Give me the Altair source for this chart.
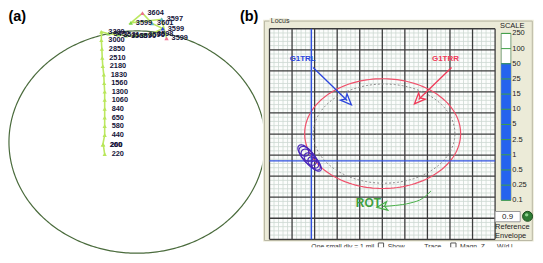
import altair as alt
import numpy as np
import pandas as pd

# ================= panel (a): polar plot, unit-circle coordinates =================
run_labels = ["220", "200", "260", "440", "580", "650", "840", "1060", "1300",
              "1560", "1830", "2180", "2510", "2850", "3000", "3380"]
run_x = [-0.253, -0.264, -0.268, -0.253, -0.253, -0.253, -0.253, -0.253, -0.253,
         -0.257, -0.260, -0.268, -0.272, -0.275, -0.279, -0.279]
run_y = [-0.109, -0.024, -0.024, 0.063, 0.144, 0.220, 0.299, 0.380, 0.453,
         0.529, 0.607, 0.683, 0.758, 0.838, 0.916, 0.992]

top_labels = ["3452", "3531", "3568", "3590", "3596", "3598", "3599", "3601",
              "3604", "3599", "3597", "3599"]
top_x = [-0.223, -0.147, -0.087, -0.019, 0.049, 0.117, 0.200, 0.117, 0.042, -0.049, 0.192, 0.230]
top_y = [0.975, 0.966, 0.958, 0.958, 0.966, 0.975, 1.021, 1.067, 1.160, 1.072, 1.105, 0.933]
top_series = ["steady"] * 6 + ["probe B", "probe C", "probe D", "probe A", "probe C", "probe D"]

series_domain = ["run-up", "steady", "probe A", "probe B", "probe C", "probe D"]
series_colors = ["#b8e65a", "#8fd45a", "#7ed648", "#2a46e0", "#5ab8c8", "#f07090"]

# ================= panel (b): locus screen, grid-division coordinates =================
cross_x = 1.856
cross_y = 3.724
red_env = (5.015, 5.02, 3.457, 2.607)
ref_env = (5.08, 5.02, 3.14, 2.356)
scrib_cx = [1.50, 1.62, 1.74, 1.86, 1.98, 2.08]
scrib_cy = [4.22, 4.06, 3.90, 3.74, 3.60, 3.48]
scrib_a = [0.30, 0.40, 0.44, 0.42, 0.36, 0.28]
scrib_b = [0.20, 0.25, 0.26, 0.24, 0.21, 0.17]
probe_names = ["G1TRL", "G1TRR"]
probe_lx = [1.47, 7.80]
probe_ly = [8.55, 8.55]
arrow_x1 = [1.93, 8.07]
arrow_y1 = [8.16, 8.16]
arrow_x2 = [3.44, 6.61]
arrow_y2 = [6.596, 6.64]
rot_x = [7.158, 6.785, 6.228, 5.585, 5.015]
rot_y = [2.298, 1.942, 1.720, 1.609, 1.556]
rot_label = ("ROT", 4.385, 1.707)
scale_labels = ["250", "100", "50", "25", "15", "10", "5", "2.5", "1", "0.5", "0.25", "0.1"]
scale_top, scale_bottom, scale_fill_top = 9.778, 1.853, 8.373
scale_left, scale_right = 10.27, 10.70
ref_value = "0.9"
bottom_texts = ["One small div = 1 mil", "Show", "Trace", "Magn", "Z", "W/d.l"]
bottom_tx = [1.856, 5.24, 6.86, 8.45, 9.36, 10.09]
check_x = [4.94, 8.15]

FONT = "Liberation Sans"

# ---------------- panel (a) ----------------
XA = alt.X("x:Q", scale=alt.Scale(domain=[-1.0075, 0.977], nice=False, zero=False), axis=None)
YA = alt.Y("y:Q", scale=alt.Scale(domain=[-1.0118, 1.202], nice=False, zero=False), axis=None)

th = np.linspace(0, 2 * np.pi, 361)
circle = pd.DataFrame({"x": np.cos(th), "y": np.sin(th), "o": np.arange(len(th))})

run = pd.DataFrame({"x": run_x, "y": run_y, "t": run_labels, "s": "run-up"})
top = pd.DataFrame({"x": top_x, "y": top_y, "t": top_labels, "s": top_series})
path = pd.concat([run, top], ignore_index=True)
path["o"] = np.arange(len(path))

color_enc = alt.Color("s:N", scale=alt.Scale(domain=series_domain, range=series_colors), legend=None)

a_circle = alt.Chart(circle).mark_line(clip=True, color="#4a6b3c", strokeWidth=1.2).encode(
    x=XA, y=YA, order="o:Q")
a_path = alt.Chart(path).mark_line(color="#bce860", strokeWidth=1.6).encode(x=XA, y=YA, order="o:Q")
a_pts = alt.Chart(path).mark_point(shape="triangle-up", filled=True, size=18, opacity=1).encode(
    x=XA, y=YA, color=color_enc)
a_run_txt = alt.Chart(run).mark_text(align="left", baseline="middle", dx=7, fontSize=7.4,
                                     fontWeight="bold", font=FONT, color="#14143a").encode(
    x=XA, y=YA, text="t:N")
a_top_txt = alt.Chart(top).mark_text(align="left", baseline="middle", dx=5, fontSize=7.4,
                                     fontWeight="bold", font=FONT, color="#14143a").encode(
    x=XA, y=YA, text="t:N")
tags = pd.DataFrame({"x": [-1.004, 0.875], "y": [1.122, 1.122], "t": ["(a)", "(b)"]})
a_tag1 = alt.Chart(tags.iloc[[0]]).mark_text(align="left", baseline="middle", fontSize=14.5,
                                            fontWeight="bold", font=FONT, color="black").encode(
    x=XA, y=YA, text="t:N")
a_tag2 = alt.Chart(tags.iloc[[1]]).mark_text(align="center", baseline="middle", fontSize=14.5,
                                            fontWeight="bold", font=FONT, color="black").encode(
    x=XA, y=YA, text="t:N")

panel_a = alt.layer(a_circle, a_path, a_pts, a_run_txt, a_top_txt, a_tag1, a_tag2).properties(
    width=255.25, height=247)

# ---------------- panel (b) ----------------
XB = alt.X("x:Q", scale=alt.Scale(domain=[-0.287, 11.714], nice=False, zero=False), axis=None)
YB = alt.Y("y:Q", scale=alt.Scale(domain=[-0.724, 10.964], nice=False, zero=False), axis=None)


def rect(df, **kw):
    return alt.Chart(df).mark_rect(**kw).encode(x=XB, x2="x2:Q", y=YB, y2="y2:Q")


def rules(df, **kw):
    return alt.Chart(df).mark_rule(**kw).encode(x=XB, x2="x2:Q", y=YB, y2="y2:Q")


def ellipse(cx, cy, rx, ry, rot=0.0, n=160, key=0):
    t = np.linspace(0, 2 * np.pi, n)
    c, s = np.cos(np.radians(rot)), np.sin(np.radians(rot))
    ex, ey = rx * np.cos(t), ry * np.sin(t)
    return pd.DataFrame({"x": cx + ex * c - ey * s, "y": cy + ex * s + ey * c,
                         "o": np.arange(n), "k": key})


bg = rect(pd.DataFrame({"x": [-0.287], "x2": [11.714], "y": [-0.102], "y2": [10.431]}),
          color="#ecebd8")
gbox = rect(pd.DataFrame({"x": [-0.223], "x2": [11.65], "y": [-0.06], "y2": [10.364]}),
            fill="#ecebd8", stroke="#b9b7a3", strokeWidth=1)
locus_bg = rect(pd.DataFrame({"x": [0.0], "x2": [0.8], "y": [10.2], "y2": [10.5]}), color="#ecebd8")
locus = alt.Chart(pd.DataFrame({"x": [0.06], "y": [10.364], "t": ["Locus"]})).mark_text(
    align="left", baseline="middle", fontSize=7, font=FONT, color="#303030").encode(
    x=XB, y=YB, text="t:N")
gwhite = rect(pd.DataFrame({"x": [0], "x2": [10], "y": [0], "y2": [10]}), color="#fcfdfc")

minor = [v for v in np.round(np.arange(0, 10.001, 0.2), 3) if abs(v - round(v)) > 1e-6]
minor_df = pd.concat([
    pd.DataFrame({"x": minor, "x2": minor, "y": 0.0, "y2": 10.0}),
    pd.DataFrame({"x": 0.0, "x2": 10.0, "y": minor, "y2": minor})], ignore_index=True)
major = list(range(0, 11))
major_df = pd.concat([
    pd.DataFrame({"x": major, "x2": major, "y": 0.0, "y2": 10.0}),
    pd.DataFrame({"x": 0.0, "x2": 10.0, "y": major, "y2": major})], ignore_index=True)
g_minor = rules(minor_df, color="#cdd8d2", strokeWidth=0.8)
g_major = rules(major_df, color="#3c3c3c", strokeWidth=1.3)

env_ref = alt.Chart(ellipse(*ref_env)).mark_line(color="#8a8a8a", strokeWidth=1,
                                                 strokeDash=[2, 2]).encode(x=XB, y=YB, order="o:Q")
env_red = alt.Chart(ellipse(*red_env)).mark_line(color="#f0506a", strokeWidth=1.2).encode(
    x=XB, y=YB, order="o:Q")
cross = rules(pd.DataFrame({"x": [cross_x, 0.0], "x2": [cross_x, 10.0],
                            "y": [0.0, cross_y], "y2": [10.0, cross_y]}),
              color="#3050e0", strokeWidth=1.4)

scrib = pd.concat([ellipse(cx, cy, a, b, rot=-52, n=60, key=i)
                   for i, (cx, cy, a, b) in enumerate(zip(scrib_cx, scrib_cy, scrib_a, scrib_b))],
                  ignore_index=True)
b_scrib = alt.Chart(scrib).mark_line(color="#4a26b8", strokeWidth=1.2).encode(
    x=XB, y=YB, order="o:Q", detail="k:N")

arr_cols = ["#2a44dc", "#f03a58"]
arr_angles = [45.7, 133.7]
arrow_layers = []
HEAD = "M1,0L-0.8,-0.75L-0.35,0L-0.8,0.75Z"
for i in range(2):
    d = pd.DataFrame({"x": [arrow_x1[i]], "x2": [arrow_x2[i]], "y": [arrow_y1[i]], "y2": [arrow_y2[i]]})
    arrow_layers.append(rules(d, color=arr_cols[i], strokeWidth=1.3))
    arrow_layers.append(alt.Chart(pd.DataFrame({"x": [arrow_x2[i]], "y": [arrow_y2[i]]})).mark_point(
        shape=HEAD, size=150, filled=False, color=arr_cols[i], strokeWidth=1.3, angle=arr_angles[i],
        opacity=1).encode(x=XB, y=YB))
    arrow_layers.append(alt.Chart(pd.DataFrame({"x": [probe_lx[i]], "y": [probe_ly[i]],
                                                "t": [probe_names[i]]})).mark_text(
        align="center", baseline="middle", fontSize=8, fontWeight="bold", font=FONT,
        color=arr_cols[i]).encode(x=XB, y=YB, text="t:N"))

rot_df = pd.DataFrame({"x": rot_x, "y": rot_y, "o": np.arange(len(rot_x))})
b_rot_line = alt.Chart(rot_df).mark_line(color="#48b048", strokeWidth=1, interpolate="monotone").encode(
    x=XB, y=YB, order="o:Q")
b_rot_head = alt.Chart(rot_df.iloc[[-1]]).mark_point(
    shape=HEAD, size=130, filled=False, color="#48b048", strokeWidth=1.2, angle=172, opacity=1).encode(
    x=XB, y=YB)
b_rot_txt = alt.Chart(pd.DataFrame({"x": [rot_label[1]], "y": [rot_label[2]], "t": [rot_label[0]]})).mark_text(
    align="center", baseline="middle", fontSize=12, fontWeight="bold", font=FONT, color="#3fa03f").encode(
    x=XB, y=YB, text="t:N")

# scale bar
lv = np.linspace(scale_top, scale_bottom, len(scale_labels))
sc_box = rect(pd.DataFrame({"x": [scale_left], "x2": [scale_right], "y": [scale_bottom], "y2": [scale_top]}),
              fill="white", stroke="#7aa07a", strokeWidth=1)
sc_fill = rect(pd.DataFrame({"x": [scale_left], "x2": [scale_right], "y": [scale_bottom], "y2": [scale_fill_top]}),
               color="#2563ee")
sc_ticks = rules(pd.DataFrame({"x": scale_left, "x2": scale_right, "y": lv, "y2": lv}),
                 color="#3ea046", strokeWidth=1)
sc_txt = alt.Chart(pd.DataFrame({"x": scale_right + 0.06, "y": lv, "t": scale_labels})).mark_text(
    align="left", baseline="middle", fontSize=7.5, font=FONT, color="#222222").encode(x=XB, y=YB, text="t:N")
sc_title = alt.Chart(pd.DataFrame({"x": [10.76], "y": [10.15], "t": ["SCALE"]})).mark_text(
    align="center", baseline="middle", fontSize=7.5, font=FONT, color="#222222").encode(x=XB, y=YB, text="t:N")

val_box = rect(pd.DataFrame({"x": [10.0], "x2": [11.114], "y": [0.831], "y2": [1.32]}),
               fill="white", stroke="#9a9a9a", strokeWidth=1)
val_txt = alt.Chart(pd.DataFrame({"x": [10.557], "y": [1.076], "t": [ref_value]})).mark_text(
    align="center", baseline="middle", fontSize=8, font=FONT, color="#222222").encode(x=XB, y=YB, text="t:N")
knob = alt.Chart(pd.DataFrame({"x": [11.44], "y": [1.09]})).mark_point(
    shape="circle", size=100, filled=True, color="#2e7d34", stroke="#1c4a1c", strokeWidth=1,
    opacity=1).encode(x=XB, y=YB)
knob_hi = alt.Chart(pd.DataFrame({"x": [11.40], "y": [1.16]})).mark_point(
    shape="circle", size=12, filled=True, color="#8fd48f", opacity=1).encode(x=XB, y=YB)
env_txt = alt.Chart(pd.DataFrame({"x": [10.0, 10.0], "y": [0.564, 0.164],
                                  "t": ["Reference", "Envelope"]})).mark_text(
    align="left", baseline="middle", fontSize=7.5, font=FONT, color="#222222").encode(x=XB, y=YB, text="t:N")

bot_txt = alt.Chart(pd.DataFrame({"x": bottom_tx, "y": -0.44, "t": bottom_texts})).mark_text(
    align="left", baseline="alphabetic", fontSize=6.8, font=FONT, color="#333333").encode(
    x=XB, y=YB, text="t:N")
bot_chk = alt.Chart(pd.DataFrame({"x": check_x, "y": -0.30})).mark_point(
    shape="square", size=28, filled=False, color="#555555", strokeWidth=1, opacity=1).encode(x=XB, y=YB)
cover = rect(pd.DataFrame({"x": [-0.287], "x2": [11.714], "y": [-0.724], "y2": [-0.38]}), color="white")

panel_b = alt.layer(
    bg, gbox, locus_bg, locus, gwhite, g_minor, g_major, env_ref, env_red, cross, b_scrib,
    *arrow_layers, b_rot_line, b_rot_head, b_rot_txt,
    sc_box, sc_fill, sc_ticks, sc_txt, sc_title,
    val_box, val_txt, knob, knob_hi, env_txt, bot_txt, bot_chk, cover
).properties(width=271.75, height=247)

chart = alt.hconcat(panel_a, panel_b, spacing=0).properties(
    padding=0, background="white"
).configure_view(stroke=None)

chart.save("out.html", embed_options={"renderer": "svg", "actions": False})
